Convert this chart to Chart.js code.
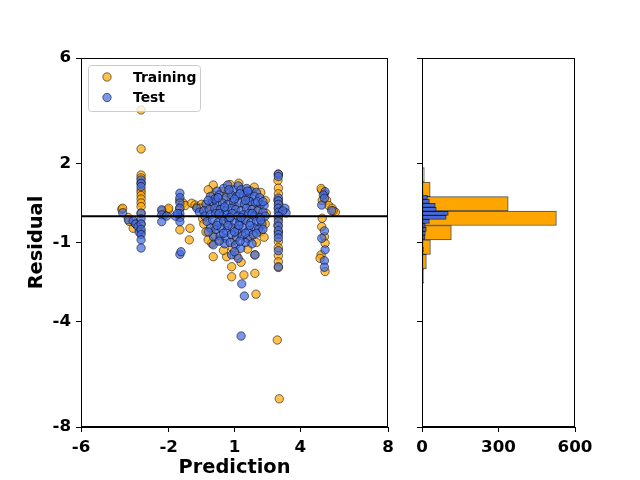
<!DOCTYPE html>
<html>
<head>
<meta charset="utf-8">
<script src="https://cdn.jsdelivr.net/npm/chart.js@4.4.1/dist/chart.umd.min.js"></script>
<style>
  html, body { margin: 0; padding: 0; background: #fff; }
  #wrap { position: relative; width: 640px; height: 480px; overflow: hidden; }
  canvas { position: absolute; top: 0; }
  #scatter { left: 0; }
  #hist { left: 400px; }
</style>
</head>
<body>
<div id="wrap">
  <canvas id="scatter" width="400" height="480"></canvas>
  <canvas id="hist" width="240" height="480"></canvas>
</div>
<script>
// axis ticks
const xTicks = [-6, -2, 1, 4, 8];
const yTicks = [-8, -4, -1, 2, 6];
const countTicks = [0, 300, 600];

// residual vs prediction, training set [prediction, residual]
const trainPts = [
  [-4.14,0.26],[-4.1,0.3],[-3.85,-0.05],[-3.62,-0.46],[-3.54,-0.27],[-3.8,-0.2],
  [-3.26,4.03],[-3.26,2.55],[-3.26,1.56],[-3.26,1.45],[-3.26,1.25],[-3.26,1.0],[-3.26,0.9],
  [-3.26,0.78],[-3.26,0.65],[-3.26,0.5],[-3.26,0.36],[-3.26,0.1],[-3.26,-0.3],[-3.26,-0.6],
  [-2.3,0.2],[-2.2,0.05],[-2.02,0.24],[-2.0,0.3],
  [-1.5,0.6],[-1.5,0.3],[-1.49,-0.52],[-1.35,0.5],[-1.25,0.4],
  [-1.03,-0.46],[-1.06,-0.9],[-0.95,0.49],[-0.8,0.42],[-0.7,0.35],
  [0.03,1.18],[0.41,0.93],[0.03,0.8],[1.5,0.88],[-0.5,0.45],[-0.55,0.3],[-0.45,-0.1],
  [-0.4,-0.3],[-0.3,-0.6],[-0.04,-1.03],[0.03,-0.74],[0.03,-1.54],[-0.2,-0.9],[0.64,-1.54],
  [0.87,-1.92],[0.5,-1.3],[0.87,-2.3],[1.43,-2.23],[1.93,-2.17],[1.98,-2.96],[1.93,-1.47],
  [1.3,-1.75],[1.6,-1.25],[2.2,-0.6],[2.35,-0.8],[2.4,-0.3],[2.45,0.1],[2.4,0.6],[2.2,0.9],
  [1.9,1.1],[0.8,1.2],[1.2,1.25],[-0.2,1.0],[0.9,-1.2],[1.1,-1.5],[0.2,0.2],[0.6,-0.3],
  [1.0,0.4],[1.4,-0.1],[1.8,0.3],[0.5,0.6],[1.2,-0.6],[1.7,-0.8],[0.3,-0.9],[2.0,-1.0],
  [-0.1,0.4],[0.7,0.9],[1.6,0.6],[2.1,0.3],[0.1,-0.4],[1.0,-0.9],
  [3.0,1.6],[2.98,1.35],[3.0,1.06],[3.0,0.85],[2.98,0.6],[3.02,0.45],[3.0,0.3],[3.05,0.15],
  [3.1,0.2],[3.0,-0.1],[2.98,-0.35],[3.0,-0.6],[3.0,-0.97],[3.0,-1.2],[3.0,-1.5],[3.0,-1.73],
  [3.0,-1.95],[2.95,-4.7],[3.04,-6.93],
  [4.98,0.99],[5.1,0.85],[4.95,1.05],[5.2,0.6],[5.3,0.4],[5.45,0.3],[5.0,-0.08],[4.98,-0.4],
  [5.1,-0.78],[5.13,-1.03],[4.95,-1.47],[4.9,-1.6],[5.13,-2.1],[5.0,0.6],[5.6,0.15],[5.5,0.2]
];

// residual vs prediction, test set [prediction, residual]
const testPts = [
  [-4.1,0.13],[-3.84,-0.14],[-3.62,-0.18],[-3.5,-0.3],[-3.4,-0.4],[-3.35,-0.6],
  [-3.26,1.37],[-3.26,1.24],[-3.26,1.12],[-3.26,0.12],[-3.26,-0.1],[-3.26,-0.3],
  [-3.26,-0.5],[-3.26,-0.7],[-3.26,-0.9],[-3.26,-1.21],
  [-2.32,0.24],[-2.32,0.05],[-2.32,-0.21],[-2.1,0.0],
  [-1.49,0.87],[-1.49,0.7],[-1.49,0.5],[-1.49,0.3],[-1.49,0.1],[-1.49,-0.05],[-1.49,-0.21],
  [-1.49,-1.45],[-1.7,0.0],[-1.6,0.1],[-0.72,0.3],[-0.6,0.15],[-1.44,-1.35],
  [0.5,1.05],[0.69,1.18],[0.94,0.99],[1.17,1.15],[1.3,1.0],[1.55,1.05],[1.75,0.95],[0.2,0.95],[2.0,0.9],
  [-0.1,0.75],[0.3,0.8],[0.6,0.7],[0.85,0.8],[1.1,0.75],[1.4,0.8],[1.65,0.7],[1.9,0.75],[2.15,0.7],
  [-0.3,0.45],[0.0,0.55],[0.2,0.5],[0.45,0.5],[0.7,0.45],[0.95,0.55],[1.2,0.5],[1.45,0.45],
  [1.7,0.55],[1.95,0.5],[2.2,0.45],[2.35,0.4],
  [-0.4,0.2],[-0.15,0.25],[0.1,0.3],[0.35,0.25],[0.6,0.2],[0.85,0.3],[1.05,0.25],[1.3,0.2],
  [1.55,0.3],[1.8,0.25],[2.05,0.2],[2.3,0.15],
  [-0.35,0.0],[-0.1,0.05],[0.15,0.1],[0.4,0.0],[0.65,0.05],[0.9,0.1],[1.15,0.0],[1.4,0.05],
  [1.65,0.1],[1.9,0.0],[2.15,-0.05],[2.4,0.0],
  [-0.25,-0.2],[0.0,-0.15],[0.25,-0.25],[0.5,-0.2],[0.75,-0.15],[1.0,-0.25],[1.25,-0.2],
  [1.5,-0.15],[1.75,-0.25],[2.0,-0.2],[2.25,-0.3],
  [-0.1,-0.45],[0.15,-0.5],[0.4,-0.45],[0.65,-0.55],[0.9,-0.45],[1.15,-0.5],[1.4,-0.45],
  [1.65,-0.55],[1.9,-0.45],[2.1,-0.5],
  [0.05,-0.8],[0.35,-0.75],[0.6,-0.85],[0.85,-0.7],[1.1,-0.8],[1.35,-0.75],[1.6,-0.85],[1.85,-0.7],
  [0.03,-1.09],[0.55,-1.05],[0.8,-1.0],[1.05,-1.1],[1.28,-1.22],[1.5,-1.0],[1.8,-1.05],
  [0.87,-1.47],[1.17,-1.6],[1.93,-1.47],[1.0,-1.35],[1.33,-2.57],[1.45,-3.03],[1.3,-4.55],
  [0.1,0.65],[0.55,0.35],[1.0,0.65],[1.5,0.6],[2.05,0.55],[0.3,0.1],[0.8,-0.05],[1.3,-0.05],
  [1.8,0.1],[0.2,-0.35],[0.7,-0.35],[1.2,-0.35],[1.7,-0.35],[2.2,-0.15],[0.5,-0.65],[1.0,-0.6],
  [1.5,-0.65],[2.0,-0.65],[0.3,-0.95],[1.25,-0.95],[0.25,0.7],[0.75,1.0],[1.25,0.85],[1.6,0.95],
  [-0.2,0.6],[-0.2,-0.6],[2.3,-0.5],[2.3,0.55],
  [3.0,1.59],[3.0,1.5],[3.0,0.69],[3.0,0.58],[3.0,0.45],[3.0,0.3],[3.0,0.15],[3.3,0.3],
  [3.35,0.12],[3.2,0.2],[3.0,0.0],[3.0,-0.21],[3.0,-0.38],[3.0,-0.55],[3.0,-0.7],[3.0,-0.83],
  [3.0,-1.31],[3.0,-1.92],
  [5.13,0.93],[5.05,0.8],[5.1,0.68],[5.43,0.21],[4.98,0.42],[5.1,-0.56],[4.98,-0.84],
  [5.13,-1.28],[5.1,-1.69],[5.1,-1.94]
];

// horizontal reference line at residual 0
const zeroLine = [[-6, 0], [8, 0]];

// histogram of residuals, training (20 bins)
const trainBinCenters = [-6.656,-6.108,-5.560,-5.012,-4.464,-3.916,-3.368,-2.820,-2.272,-1.724,
  -1.176,-0.628,-0.080,0.468,1.016,1.564,2.112,2.660,3.208,3.756];
const trainCounts = [1,0,0,0,2,0,0,1,7,17,33,115,527,338,32,9,0,1,0,1];

// histogram of residuals, test (40 bins)
const testBinCenters = [-4.454,-4.302,-4.150,-3.998,-3.846,-3.694,-3.542,-3.390,-3.238,-3.086,
  -2.934,-2.782,-2.630,-2.478,-2.326,-2.174,-2.022,-1.870,-1.718,-1.566,
  -1.414,-1.262,-1.110,-0.958,-0.806,-0.654,-0.502,-0.350,-0.198,-0.046,
  0.106,0.258,0.410,0.562,0.714,0.866,1.018,1.170,1.322,1.474];
const testCounts = [1,0,0,0,0,0,0,0,0,1,0,0,1,0,0,0,3,2,3,2,
  4,6,3,4,12,13,17,13,29,95,103,56,52,29,21,4,3,2,3,3];

const ORANGE = 'rgba(255,165,0,0.7)';
const BLUE = 'rgba(65,105,225,0.7)';
const EDGE = 'rgba(0,0,0,0.6)';

Chart.defaults.font.family = "'DejaVu Sans', sans-serif";
Chart.defaults.font.weight = 'bold';
Chart.defaults.color = '#000';

const tickFont = { size: 16.7, weight: 'bold' };
const toXY = pts => pts.map(p => ({ x: p[0], y: p[1] }));

// full box round the plot area
const framePlugin = {
  id: 'frame',
  afterDraw(chart) {
    const a = chart.chartArea, ctx = chart.ctx;
    ctx.save();
    ctx.strokeStyle = '#000';
    ctx.lineWidth = 1;
    ctx.strokeRect(a.left + 0.5, a.top + 0.5, a.right - a.left - 1, a.bottom - a.top - 1);
    ctx.restore();
  }
};

// legend box in the upper left corner of the plot
const legendPlugin = {
  id: 'innerLegend',
  afterDatasetsDraw(chart) {
    const a = chart.chartArea, ctx = chart.ctx;
    const items = chart.data.datasets.filter(d => d.inLegend).sort((p, q) => p.legendOrder - q.legendOrder);
    const x0 = a.left + 7, y0 = a.top + 7, w = 112, h = 46;
    ctx.save();
    ctx.beginPath();
    ctx.roundRect(x0 + 0.5, y0 + 0.5, w, h, 3);
    ctx.fillStyle = 'rgba(255,255,255,0.8)';
    ctx.fill();
    ctx.strokeStyle = '#cccccc';
    ctx.lineWidth = 1;
    ctx.stroke();
    ctx.font = "bold 13.9px 'DejaVu Sans'";
    ctx.textBaseline = 'middle';
    items.forEach((d, i) => {
      const cy = y0 + 12 + i * 20.5;
      ctx.beginPath();
      ctx.arc(x0 + 19, cy, 4.2, 0, Math.PI * 2);
      ctx.fillStyle = d.backgroundColor;
      ctx.fill();
      ctx.strokeStyle = d.borderColor;
      ctx.lineWidth = 0.9;
      ctx.stroke();
      ctx.fillStyle = '#000';
      ctx.fillText(d.label, x0 + 45, cy + 1);
    });
    ctx.restore();
  }
};

const setTicks = vals => scale => { scale.ticks = vals.map(v => ({ value: v })); };

new Chart(document.getElementById('scatter'), {
  type: 'scatter',
  data: {
    datasets: [
      {
        type: 'line', label: 'zero', data: toXY(zeroLine),
        borderColor: '#000', borderWidth: 2, pointRadius: 0, fill: false
      },
      {
        label: 'Test', data: toXY(testPts), inLegend: true, legendOrder: 1,
        backgroundColor: BLUE, borderColor: EDGE, borderWidth: 0.9, pointRadius: 4.2
      },
      {
        label: 'Training', data: toXY(trainPts), inLegend: true, legendOrder: 0,
        backgroundColor: ORANGE, borderColor: EDGE, borderWidth: 0.9, pointRadius: 4.2
      }
    ]
  },
  options: {
    responsive: false,
    animation: false,
    devicePixelRatio: 1,
    layout: { padding: { top: 58, right: 12, left: 0, bottom: 0 } },
    plugins: { legend: { display: false }, tooltip: { enabled: false } },
    scales: {
      x: {
        type: 'linear', min: -6, max: 8,
        afterBuildTicks: setTicks(xTicks),
        afterFit: s => { s.height = 53; s.paddingLeft = 0; s.paddingRight = 0; },
        grid: { drawOnChartArea: false, tickLength: 5, color: '#000', tickWidth: 1 },
        border: { color: '#000', width: 1 },
        ticks: { font: tickFont, padding: 6, maxRotation: 0, autoSkip: false },
        title: { display: true, text: 'Prediction', font: { size: 19.4, weight: 'bold' }, padding: { top: 0, bottom: 0 } }
      },
      y: {
        type: 'linear', min: -8, max: 6,
        afterBuildTicks: setTicks(yTicks),
        afterFit: s => { s.width = 81; s.paddingTop = 0; s.paddingBottom = 0; },
        grid: { drawOnChartArea: false, tickLength: 5, color: '#000', tickWidth: 1 },
        border: { color: '#000', width: 1 },
        ticks: { font: tickFont, padding: 5, autoSkip: false },
        title: { display: true, text: 'Residual', font: { size: 19.4, weight: 'bold' }, padding: { top: 25, bottom: 0 } }
      }
    }
  },
  plugins: [framePlugin, legendPlugin]
});

const binData = (centers, counts) => centers.map((c, i) => ({ x: counts[i], y: c }));

new Chart(document.getElementById('hist'), {
  type: 'bar',
  data: {
    datasets: [
      {
        label: 'Test', data: binData(testBinCenters, testCounts), yAxisID: 'y2',
        backgroundColor: '#4169E1', borderColor: 'rgba(0,0,0,0.7)', borderWidth: 1,
        borderSkipped: false, barPercentage: 1, categoryPercentage: 1, grouped: false
      },
      {
        label: 'Training', data: binData(trainBinCenters, trainCounts), yAxisID: 'y',
        backgroundColor: '#FFA500', borderColor: 'rgba(0,0,0,0.7)', borderWidth: 1,
        borderSkipped: false, barPercentage: 1, categoryPercentage: 1, grouped: false
      }
    ]
  },
  options: {
    indexAxis: 'y',
    responsive: false,
    animation: false,
    devicePixelRatio: 1,
    layout: { padding: { top: 58, right: 65, left: 0, bottom: 0 } },
    plugins: { legend: { display: false }, tooltip: { enabled: false } },
    scales: {
      x: {
        type: 'linear', min: 0, max: 600,
        afterBuildTicks: setTicks(countTicks),
        afterFit: s => { s.height = 53; s.paddingLeft = 0; s.paddingRight = 0; },
        grid: { drawOnChartArea: false, tickLength: 5, color: '#000', tickWidth: 1 },
        border: { color: '#000', width: 1 },
        ticks: { font: tickFont, padding: 6, maxRotation: 0, autoSkip: false }
      },
      y: {
        type: 'linear', position: 'left', min: -8, max: 6, offset: false,
        afterBuildTicks: setTicks(yTicks),
        afterFit: s => { s.width = 22; s.paddingTop = 0; s.paddingBottom = 0; },
        grid: { drawOnChartArea: false, offset: false, tickLength: 5, color: '#000', tickWidth: 1 },
        border: { color: '#000', width: 1 },
        ticks: { display: false }
      },
      y2: {
        type: 'linear', position: 'left', min: -8, max: 6, offset: false,
        grid: { offset: false }, display: false
      }
    }
  },
  plugins: [framePlugin]
});
</script>
</body>
</html>
